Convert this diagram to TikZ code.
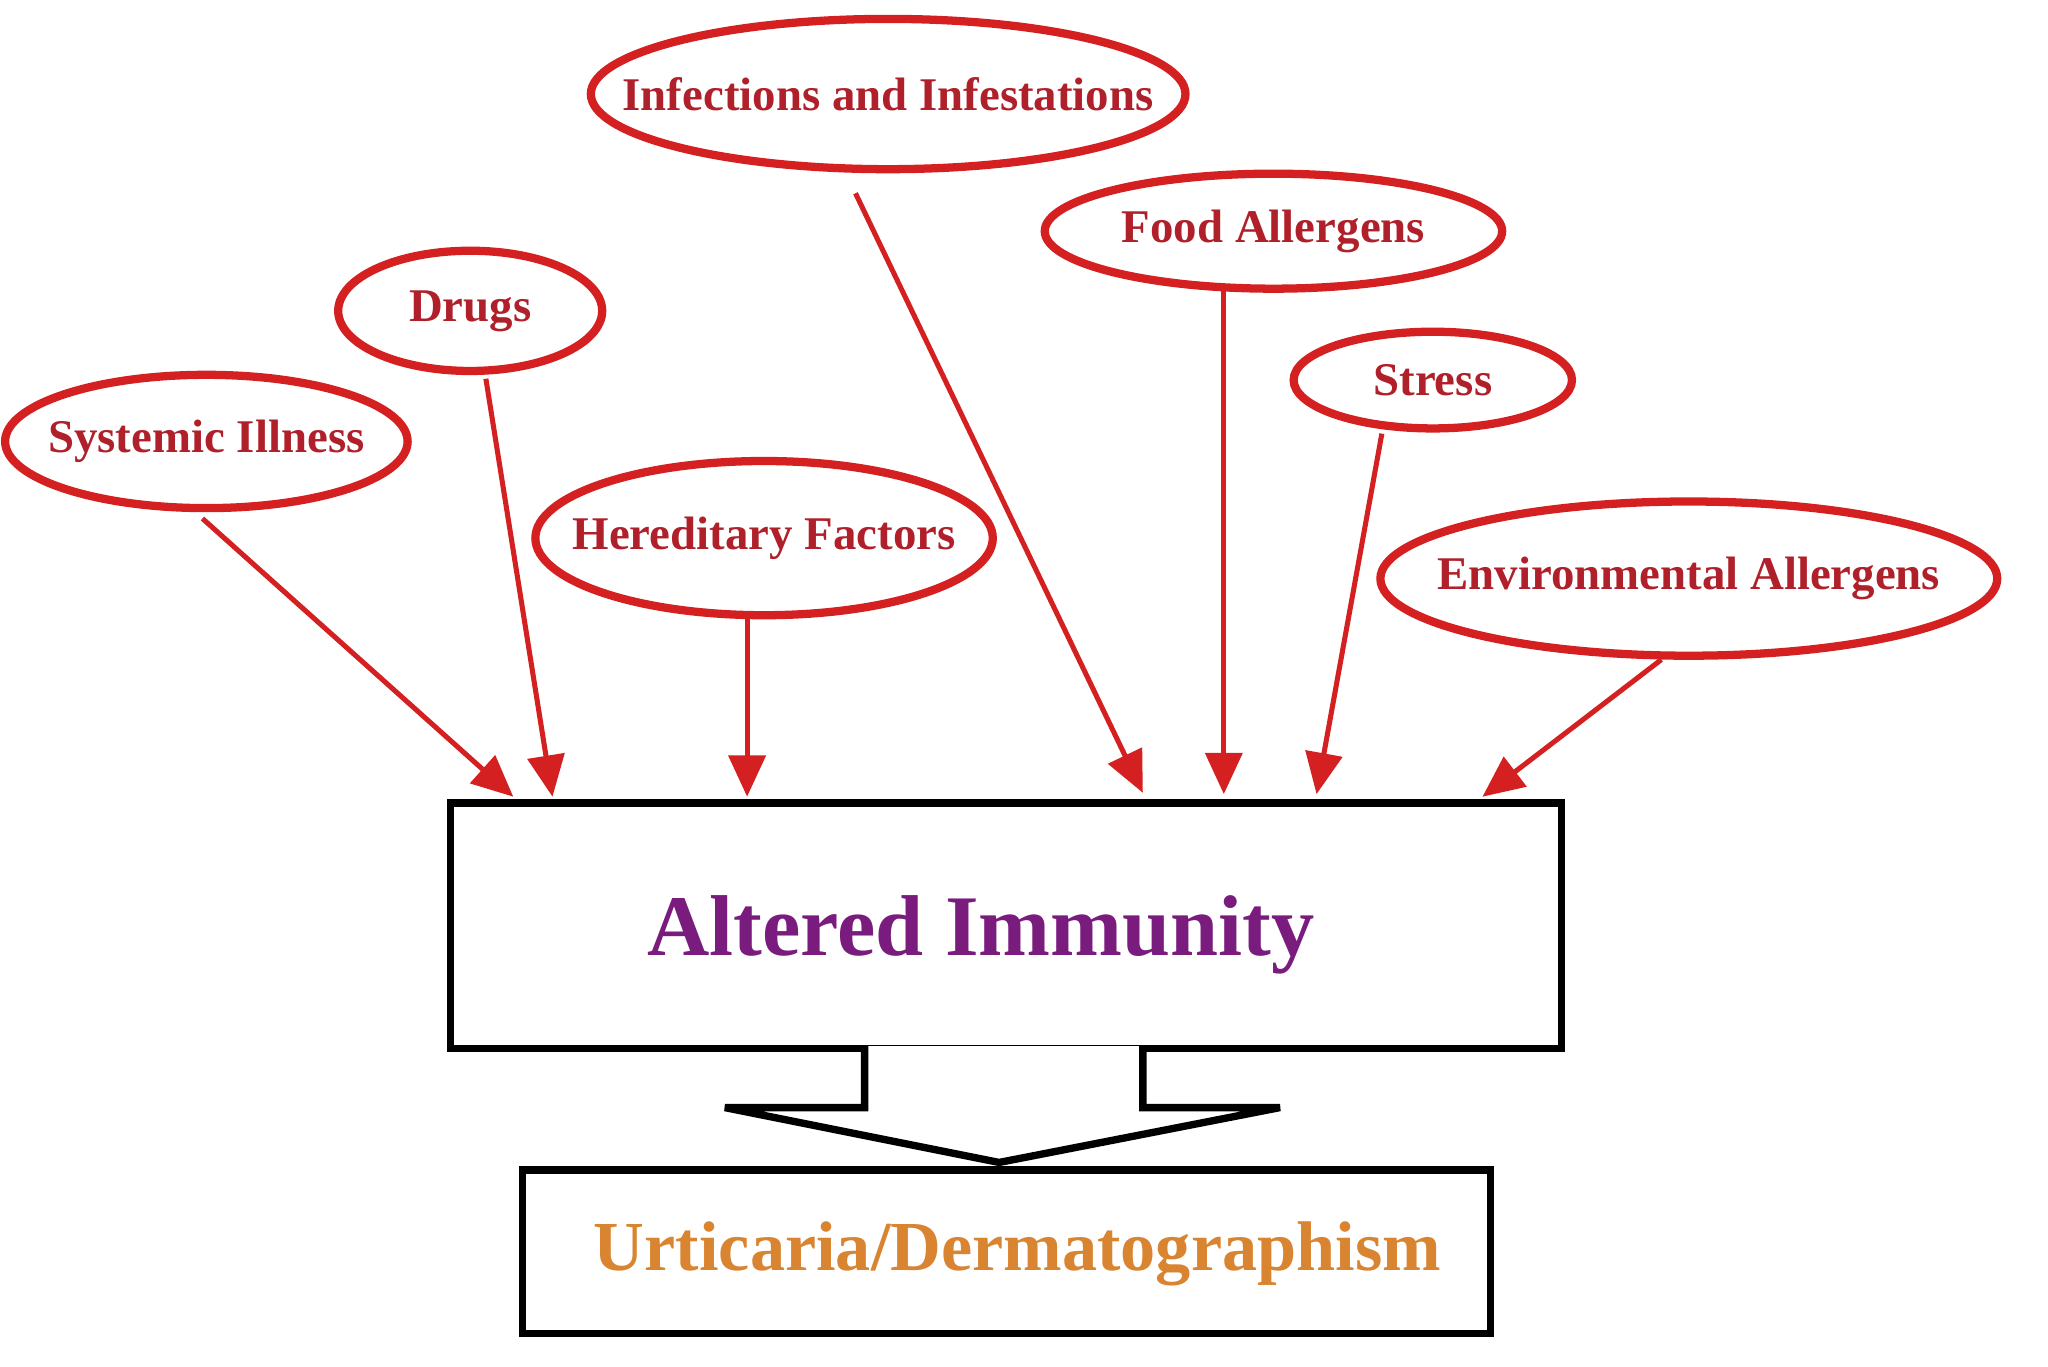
\documentclass[tikz,border=0pt]{standalone}
\usepackage{fontspec}
\setmainfont{Liberation Serif}
\usetikzlibrary{shapes.geometric,arrows.meta}
\definecolor{dred}{HTML}{B0202A}
\definecolor{lred}{HTML}{D42020}
\definecolor{purp}{HTML}{7A1C7E}
\definecolor{oran}{HTML}{D98430}
\begin{document}
\begin{tikzpicture}[x=0.01cm,y=-0.01cm,
  cause/.style={ellipse,draw=lred,line width=1.8pt,inner sep=0pt},
  ctext/.style={text=dred,font=\bfseries\fontsize{10.2}{11}\selectfont,inner sep=0pt},
  arr/.style={draw=lred,line width=1.1pt,-{Triangle[length=9pt,width=8pt]}},
  box/.style={draw=black,line width=1.6pt,inner sep=0pt}]
\useasboundingbox (0,0) rectangle (1568,1046);
\node[cause,minimum width=4.55cm,minimum height=1.15cm] (inf) at (680,72) {};
\node[ctext] (inft) at (inf.center) {Infections and Infestations};
\node[cause,minimum width=3.5cm,minimum height=0.88cm] (food) at (975,177) {};
\node[ctext] (foodt) at (food.center) {Food Allergens};
\node[cause,minimum width=2.02cm,minimum height=0.92cm] (drugs) at (360,238) {};
\node[ctext] (drugst) at (drugs.center) {Drugs};
\node[cause,minimum width=2.13cm,minimum height=0.74cm] (stress) at (1097,291) {};
\node[ctext] (stresst) at (stress.center) {Stress};
\node[cause,minimum width=3.08cm,minimum height=1.02cm] (sys) at (158,338) {};
\node[ctext] (syst) at (sys.center) {Systemic Illness};
\node[cause,minimum width=3.5cm,minimum height=1.18cm] (her) at (585,412) {};
\node[ctext] (hert) at (her.center) {Hereditary Factors};
\node[cause,minimum width=4.72cm,minimum height=1.18cm] (env) at (1293,443) {};
\node[ctext] (envt) at (env.center) {Environmental Allergens};
\node[box,minimum width=8.5cm,minimum height=1.88cm,anchor=north west] (alt) at (342,612) {};
\node[text=purp,font=\bfseries\fontsize{18.8}{22}\selectfont] (altt) at (751,716) {Altered Immunity};
\node[box,minimum width=7.41cm,minimum height=1.25cm,anchor=north west] (urt) at (397,893) {};
\node[text=oran,font=\bfseries\fontsize{15.3}{18}\selectfont] (urtt) at (779,960) {Urticaria/Dermatographism};
\coordinate (a1) at (393,610); \coordinate (a2) at (423,610); \coordinate (a3) at (572,610);
\coordinate (a4) at (875,607); \coordinate (a5) at (937,608); \coordinate (a6) at (1008,608);
\coordinate (a7) at (1135,610);
\coordinate (s1) at (155,397); \coordinate (s2) at (372,290); \coordinate (s3) at (572,473);
\coordinate (s4) at (655,148); \coordinate (s5) at (937,222); \coordinate (s6) at (1058,332);
\coordinate (s7) at (1272,505);
\draw[arr] (s1) -- (a1); \draw[arr] (s2) -- (a2); \draw[arr] (s3) -- (a3);
\draw[arr] (s4) -- (a4); \draw[arr] (s5) -- (a5); \draw[arr] (s6) -- (a6);
\draw[arr] (s7) -- (a7);
\draw[line width=1.6pt,fill=white,line join=miter] (662,801) -- (662,848) -- (555,848) -- (765,890) -- (980,848) -- (875,848) -- (875,801);
\end{tikzpicture}
\end{document}
